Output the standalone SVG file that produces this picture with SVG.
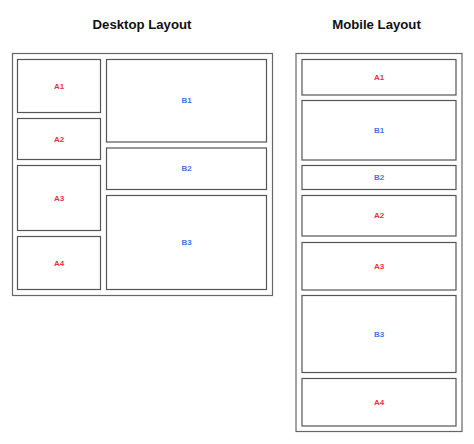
<svg xmlns="http://www.w3.org/2000/svg" width="474" height="444" viewBox="0 0 474 444">
<style>
.title{font-family:"Liberation Sans",Arial,sans-serif;font-weight:bold;font-size:13.2px;fill:#111;text-anchor:middle}
.frame{fill:#fff;stroke:#666;stroke-width:1.2}
.box{fill:#fff;stroke:#555;stroke-width:1.2}
.lbl{font-family:"Liberation Sans",Arial,sans-serif;font-weight:bold;font-size:8px;text-anchor:middle;dominant-baseline:central}
.a{fill:#e8333a}
.b{fill:#4a72e0}
</style>
<rect width="474" height="444" fill="#fff"/>
<text class="title" x="142" y="28.5">Desktop Layout</text>
<text class="title" x="376.5" y="28.5">Mobile Layout</text>
<g id="desktop">
<rect class="frame" x="12.5" y="53.5" width="260" height="242"/>
<g id="d-A1"><rect class="box" x="17.5" y="59.5" width="83" height="53"/><text class="lbl a" x="59" y="86">A1</text></g>
<g id="d-A2"><rect class="box" x="17.5" y="118.5" width="83" height="41"/><text class="lbl a" x="59" y="139">A2</text></g>
<g id="d-A3"><rect class="box" x="17.5" y="165.5" width="83" height="65"/><text class="lbl a" x="59" y="198">A3</text></g>
<g id="d-A4"><rect class="box" x="17.5" y="236.5" width="83" height="53"/><text class="lbl a" x="59" y="263">A4</text></g>
<g id="d-B1"><rect class="box" x="106.5" y="59.5" width="160" height="82.5"/><text class="lbl b" x="186.5" y="100.5">B1</text></g>
<g id="d-B2"><rect class="box" x="106.5" y="148" width="160" height="41.5"/><text class="lbl b" x="186.5" y="168.5">B2</text></g>
<g id="d-B3"><rect class="box" x="106.5" y="195.5" width="160" height="94"/><text class="lbl b" x="186.5" y="242.5">B3</text></g>
</g>
<g id="mobile">
<rect class="frame" x="296" y="53.5" width="166" height="378"/>
<g id="m-A1"><rect class="box" x="302" y="59.5" width="154" height="35.5"/><text class="lbl a" x="379" y="77">A1</text></g>
<g id="m-B1"><rect class="box" x="302" y="100.5" width="154" height="59.5"/><text class="lbl b" x="379" y="130">B1</text></g>
<g id="m-B2"><rect class="box" x="302" y="165.5" width="154" height="24"/><text class="lbl b" x="379" y="177.5">B2</text></g>
<g id="m-A2"><rect class="box" x="302" y="195.5" width="154" height="40.5"/><text class="lbl a" x="379" y="215.5">A2</text></g>
<g id="m-A3"><rect class="box" x="302" y="242.5" width="154" height="47.5"/><text class="lbl a" x="379" y="266">A3</text></g>
<g id="m-B3"><rect class="box" x="302" y="295.5" width="154" height="77"/><text class="lbl b" x="379" y="334">B3</text></g>
<g id="m-A4"><rect class="box" x="302" y="378.5" width="154" height="47.5"/><text class="lbl a" x="379" y="402">A4</text></g>
</g>
</svg>
